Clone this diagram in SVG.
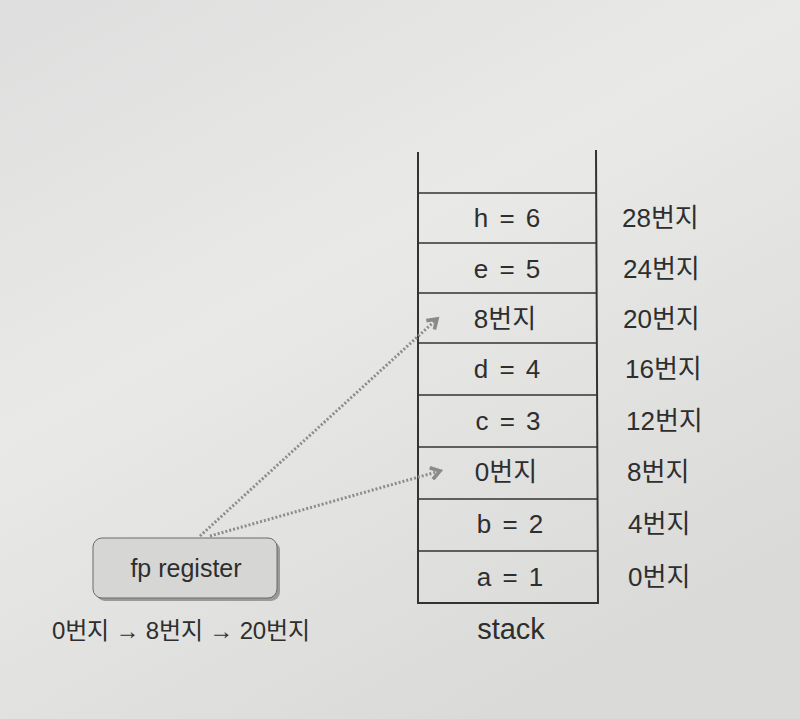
<svg xmlns="http://www.w3.org/2000/svg" width="800" height="719" viewBox="0 0 800 719">
<defs>
<linearGradient id="bg" x1="0" y1="0" x2="0.6" y2="1">
<stop offset="0" stop-color="#dedede"/>
<stop offset="0.45" stop-color="#e9e9e7"/>
<stop offset="1" stop-color="#dadad8"/>
</linearGradient>
<marker id="arr" viewBox="0 0 10 10" refX="7" refY="5" markerWidth="5" markerHeight="5" orient="auto" markerUnits="strokeWidth">
<path d="M1,1 L7,5 L1,9" fill="none" stroke="#8a8a8a" stroke-width="2.4"/>
</marker>
<style>
.t{font-family:"Liberation Sans","Noto Sans CJK KR",sans-serif;fill:#2e2e2e;font-size:26px}
.c{text-anchor:middle}
.wall{stroke:#333;stroke-width:2;fill:none}
.row{stroke:#333;stroke-width:1.6}
.link{fill:none;stroke:#8c8c8c;stroke-width:3;stroke-dasharray:2 2}
</style>
</defs>
<rect width="800" height="719" fill="url(#bg)"/>
<g id="stack">
<path class="wall" d="M418,152 L418,603 L598,603 L596,150"/>
<line class="row" x1="418" y1="193" x2="596" y2="193"/>
<line class="row" x1="418" y1="243" x2="596" y2="243"/>
<line class="row" x1="418" y1="293" x2="597" y2="293"/>
<line class="row" x1="418" y1="343" x2="597" y2="343"/>
<line class="row" x1="418" y1="395" x2="597" y2="395"/>
<line class="row" x1="418" y1="447" x2="598" y2="447"/>
<line class="row" x1="418" y1="499" x2="598" y2="499"/>
<line class="row" x1="418" y1="551" x2="598" y2="551"/>
<text class="t c" x="507" y="227" word-spacing="4">h = 6</text>
<text class="t c" x="507" y="278" word-spacing="4">e = 5</text>
<text class="t c" x="505" y="328">8번지</text>
<text class="t c" x="507" y="378" word-spacing="4">d = 4</text>
<text class="t c" x="508" y="430" word-spacing="4">c = 3</text>
<text class="t c" x="506" y="481">0번지</text>
<text class="t c" x="510" y="533" word-spacing="4">b = 2</text>
<text class="t c" x="510" y="586" word-spacing="4">a = 1</text>
<text class="t c" x="511" y="639" style="font-size:29px">stack</text>
</g>
<g id="addresses">
<text class="t" x="622" y="227">28번지</text>
<text class="t" x="623" y="278">24번지</text>
<text class="t" x="623" y="328">20번지</text>
<text class="t" x="625" y="378">16번지</text>
<text class="t" x="626" y="430">12번지</text>
<text class="t" x="627" y="481">8번지</text>
<text class="t" x="628" y="533">4번지</text>
<text class="t" x="628" y="586">0번지</text>
</g>
<g id="fp">
<rect x="96" y="541" width="184" height="60" rx="9" fill="#9a9a9a"/>
<rect x="93" y="538" width="184" height="60" rx="9" fill="#d6d6d4" stroke="#6a6a6a" stroke-width="1"/>
<text class="t c" x="186" y="577" style="font-size:25px">fp register</text>
</g>
<text id="caption" class="t" x="52" y="639" style="font-size:24px" textLength="258" lengthAdjust="spacing">0번지 → 8번지 → 20번지</text>
<g id="connectors">
<line class="link" x1="200" y1="536" x2="437" y2="319" marker-end="url(#arr)"/>
<line class="link" x1="210" y1="536" x2="440" y2="471" marker-end="url(#arr)"/>
</g>
</svg>
